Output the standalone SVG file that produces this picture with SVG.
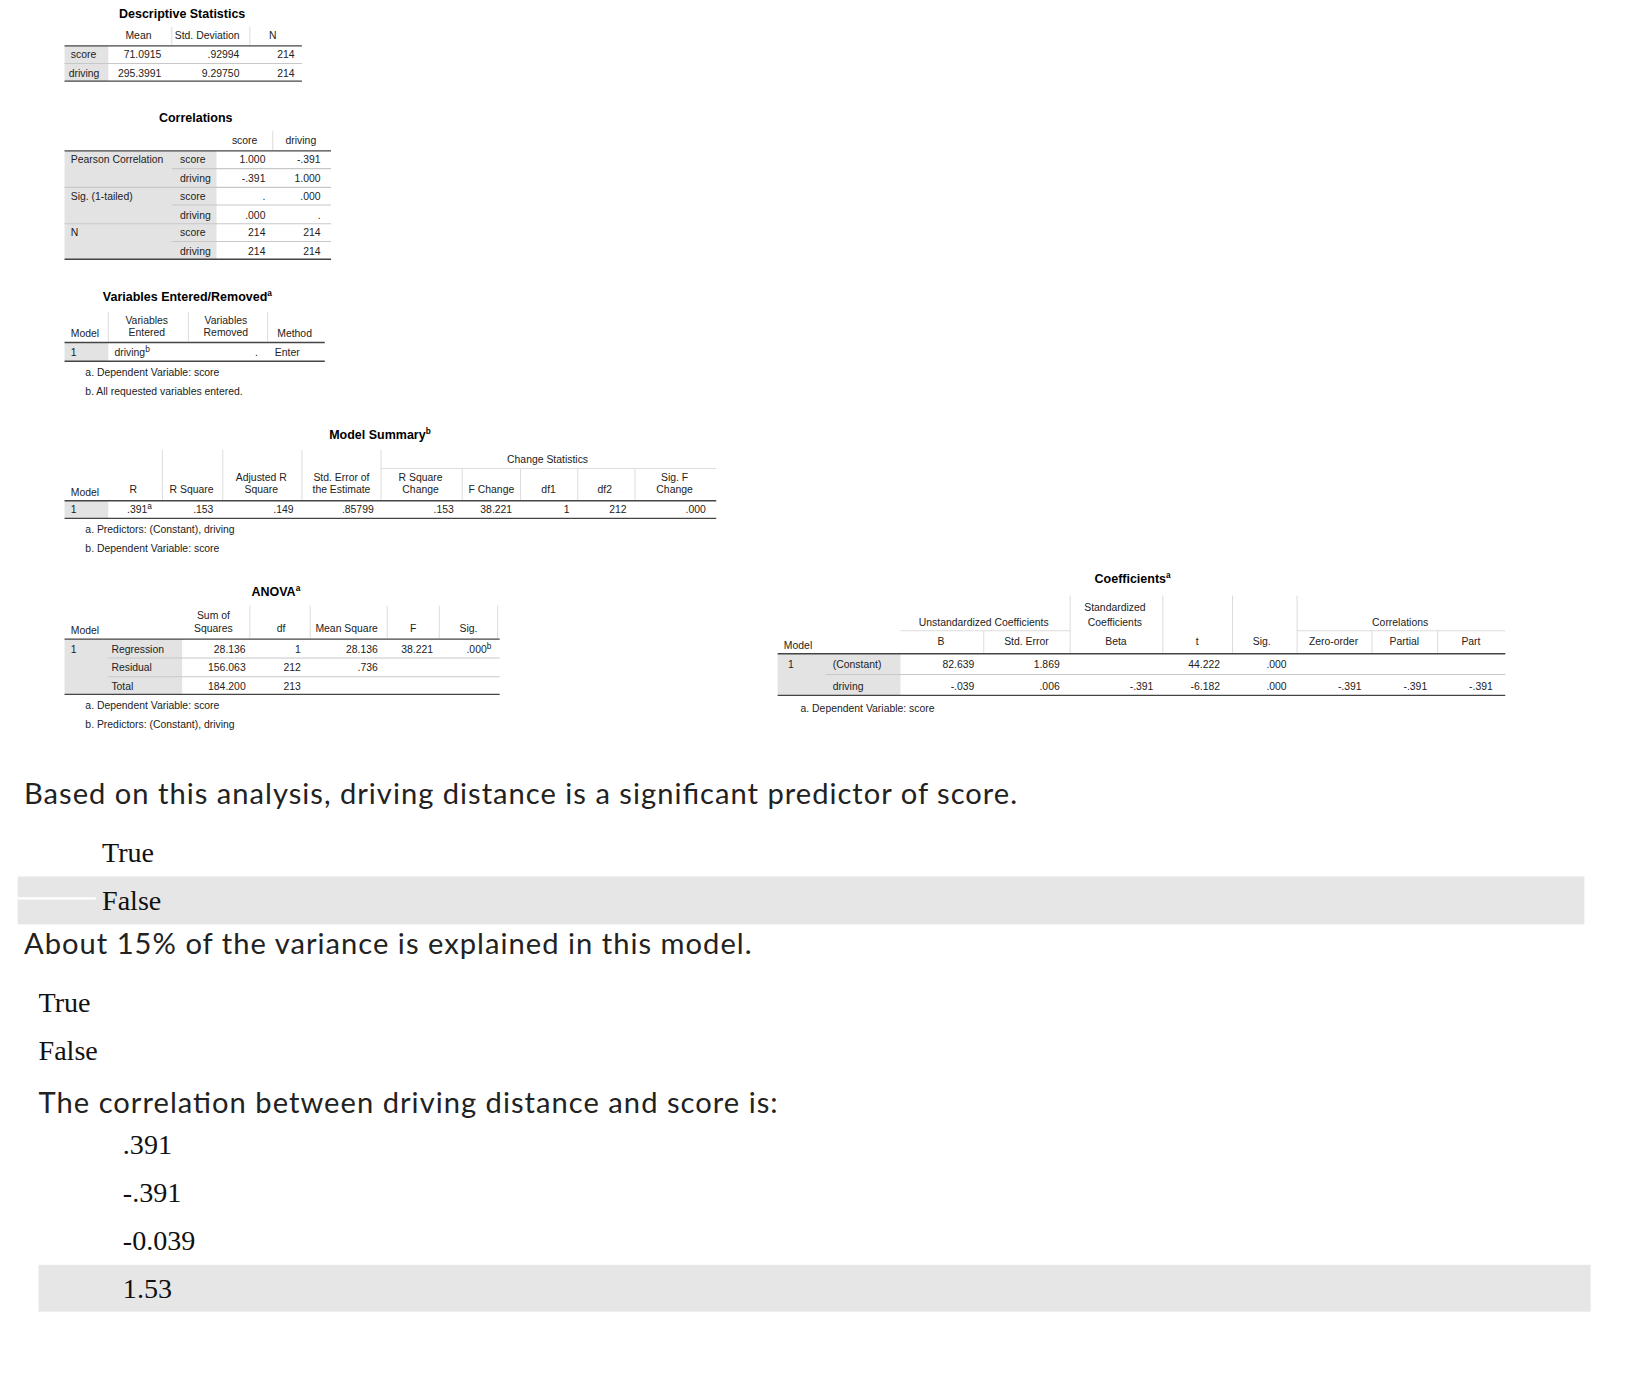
<svg xmlns="http://www.w3.org/2000/svg" width="1632" height="1384" viewBox="0 0 1632 1384">
<style>
text{font-family:"Liberation Sans",Arial,sans-serif;font-size:10px;fill:#222}
.t{font-weight:bold;font-size:12px;text-anchor:middle;fill:#000}
.c{text-anchor:middle}
.r{text-anchor:end}
.g{fill:#e3e3e3}
.d{stroke:#444;stroke-width:1.3}
.l{stroke:#c8c8c8;stroke-width:1}
.v{stroke:#ddd;stroke-width:1}
.q{font-family:Lato,"Open Sans",sans-serif;font-size:28px;fill:#222}
.o{font-family:"Liberation Serif","Times New Roman",serif;font-size:27px;fill:#111}
.sup{font-size:8px}
</style>
<rect width="1632" height="1384" fill="#fff"/>
<g transform="scale(1.041)">
<g id="descriptive">
<text class="t" x="175" y="17">Descriptive Statistics</text>
<rect class="g" x="62" y="44" width="42" height="34"/>
<line class="v" x1="165" y1="26" x2="165" y2="43"/><line class="v" x1="240" y1="26" x2="240" y2="43"/>
<text class="c" x="133" y="37">Mean</text><text class="c" x="199" y="37">Std. Deviation</text><text class="c" x="262" y="37">N</text>
<line class="d" x1="62" y1="44" x2="290" y2="44"/><line class="l" x1="62" y1="61" x2="290" y2="61"/><line class="d" x1="62" y1="78" x2="290" y2="78"/>
<text x="68" y="56">score</text><text class="r" x="155" y="56">71.0915</text><text class="r" x="230" y="56">.92994</text><text class="r" x="283" y="56">214</text>
<text x="66" y="74">driving</text><text class="r" x="155" y="74">295.3991</text><text class="r" x="230" y="74">9.29750</text><text class="r" x="283" y="74">214</text>
</g>
<g id="correlations">
<text class="t" x="188" y="117">Correlations</text>
<rect class="g" x="62" y="145" width="146" height="104"/>
<line class="v" x1="262" y1="126" x2="262" y2="144"/>
<text class="c" x="235" y="138">score</text><text class="c" x="289" y="138">driving</text>
<line class="d" x1="62" y1="145" x2="318" y2="145"/>
<line class="l" x1="165" y1="162" x2="318" y2="162"/><line class="l" x1="62" y1="180" x2="318" y2="180"/>
<line class="l" x1="165" y1="197" x2="318" y2="197"/><line class="l" x1="62" y1="215" x2="318" y2="215"/>
<line class="l" x1="165" y1="232" x2="318" y2="232"/><line class="d" x1="62" y1="249" x2="318" y2="249"/>
<text x="68" y="157">Pearson Correlation</text><text x="68" y="192">Sig. (1-tailed)</text><text x="68" y="227">N</text>
<text x="173" y="157">score</text><text x="173" y="175">driving</text><text x="173" y="192">score</text><text x="173" y="210">driving</text><text x="173" y="227">score</text><text x="173" y="245">driving</text>
<text class="r" x="255" y="157">1.000</text><text class="r" x="308" y="157">-.391</text>
<text class="r" x="255" y="175">-.391</text><text class="r" x="308" y="175">1.000</text>
<text class="r" x="255" y="192">.</text><text class="r" x="308" y="192">.000</text>
<text class="r" x="255" y="210">.000</text><text class="r" x="308" y="210">.</text>
<text class="r" x="255" y="227">214</text><text class="r" x="308" y="227">214</text>
<text class="r" x="255" y="245">214</text><text class="r" x="308" y="245">214</text>
</g>
<g id="entered">
<text class="t" x="180" y="289">Variables Entered/Removed<tspan class="sup" dy="-5">a</tspan></text>
<line class="v" x1="104" y1="300" x2="104" y2="328"/><line class="v" x1="181" y1="300" x2="181" y2="328"/><line class="v" x1="257" y1="300" x2="257" y2="328"/>
<text x="68" y="324">Model</text><text class="c" x="141" y="311">Variables</text><text class="c" x="141" y="323">Entered</text>
<text class="c" x="217" y="311">Variables</text><text class="c" x="217" y="323">Removed</text><text class="c" x="283" y="324">Method</text>
<rect class="g" x="62" y="329" width="42" height="18"/>
<line class="d" x1="62" y1="329" x2="312" y2="329"/><line class="d" x1="62" y1="347" x2="312" y2="347"/>
<text x="68" y="342">1</text><text x="110" y="342">driving<tspan class="sup" dy="-4">b</tspan></text><text x="245" y="342">.</text><text x="264" y="342">Enter</text>
<text x="82" y="361">a. Dependent Variable: score</text><text x="82" y="379">b. All requested variables entered.</text>
</g>
<g id="modelsummary">
<text class="t" x="365" y="422">Model Summary<tspan class="sup" dy="-5">b</tspan></text>
<g class="v"><line x1="156" y1="432" x2="156" y2="480"/><line x1="214" y1="432" x2="214" y2="480"/><line x1="290" y1="432" x2="290" y2="480"/><line x1="366" y1="432" x2="366" y2="480"/><line x1="444" y1="450" x2="444" y2="480"/><line x1="500" y1="450" x2="500" y2="480"/><line x1="555" y1="450" x2="555" y2="480"/><line x1="610" y1="450" x2="610" y2="480"/><line x1="366" y1="450" x2="688" y2="450"/></g>
<text class="c" x="526" y="445">Change Statistics</text>
<text x="68" y="476">Model</text><text class="c" x="128" y="474">R</text><text class="c" x="184" y="474">R Square</text>
<text class="c" x="251" y="462">Adjusted R</text><text class="c" x="251" y="474">Square</text>
<text class="c" x="328" y="462">Std. Error of</text><text class="c" x="328" y="474">the Estimate</text>
<text class="c" x="404" y="462">R Square</text><text class="c" x="404" y="474">Change</text>
<text class="c" x="472" y="474">F Change</text><text class="c" x="527" y="474">df1</text><text class="c" x="581" y="474">df2</text>
<text class="c" x="648" y="462">Sig. F</text><text class="c" x="648" y="474">Change</text>
<rect class="g" x="62" y="481" width="42" height="17"/>
<line class="d" x1="62" y1="481" x2="688" y2="481"/><line class="d" x1="62" y1="498" x2="688" y2="498"/>
<text x="68" y="493">1</text><text class="r" x="146" y="493">.391<tspan class="sup" dy="-4">a</tspan></text>
<text class="r" x="205" y="493">.153</text><text class="r" x="282" y="493">.149</text><text class="r" x="359" y="493">.85799</text><text class="r" x="436" y="493">.153</text><text class="r" x="492" y="493">38.221</text><text class="r" x="547" y="493">1</text><text class="r" x="602" y="493">212</text><text class="r" x="678" y="493">.000</text>
<text x="82" y="512">a. Predictors: (Constant), driving</text><text x="82" y="530">b. Dependent Variable: score</text>
</g>
<g id="anova">
<text class="t" x="265" y="573">ANOVA<tspan class="sup" dy="-5">a</tspan></text>
<g class="v"><line x1="240" y1="582" x2="240" y2="613"/><line x1="298" y1="582" x2="298" y2="613"/><line x1="372" y1="582" x2="372" y2="613"/><line x1="422" y1="582" x2="422" y2="613"/><line x1="478" y1="582" x2="478" y2="613"/></g>
<text x="68" y="609">Model</text><text class="c" x="205" y="595">Sum of</text><text class="c" x="205" y="607">Squares</text>
<text class="c" x="270" y="607">df</text><text class="c" x="333" y="607">Mean Square</text><text class="c" x="397" y="607">F</text><text class="c" x="450" y="607">Sig.</text>
<rect class="g" x="62" y="614" width="113" height="53"/>
<line class="d" x1="62" y1="614" x2="480" y2="614"/><line class="l" x1="104" y1="632" x2="480" y2="632"/><line class="l" x1="104" y1="650" x2="480" y2="650"/><line class="d" x1="62" y1="667" x2="480" y2="667"/>
<text x="68" y="627">1</text><text x="107" y="627">Regression</text><text x="107" y="645">Residual</text><text x="107" y="663">Total</text>
<text class="r" x="236" y="627">28.136</text><text class="r" x="289" y="627">1</text><text class="r" x="363" y="627">28.136</text><text class="r" x="416" y="627">38.221</text><text class="r" x="472" y="627">.000<tspan class="sup" dy="-4">b</tspan></text>
<text class="r" x="236" y="645">156.063</text><text class="r" x="289" y="645">212</text><text class="r" x="363" y="645">.736</text>
<text class="r" x="236" y="663">184.200</text><text class="r" x="289" y="663">213</text>
<text x="82" y="681">a. Dependent Variable: score</text><text x="82" y="699">b. Predictors: (Constant), driving</text>
</g>
<g id="coefficients">
<text class="t" x="1088" y="560">Coefficients<tspan class="sup" dy="-5">a</tspan></text>
<g class="v"><line x1="1028" y1="572" x2="1028" y2="627"/><line x1="1117" y1="572" x2="1117" y2="627"/><line x1="1184" y1="572" x2="1184" y2="627"/><line x1="1246" y1="572" x2="1246" y2="627"/><line x1="945" y1="606" x2="945" y2="627"/><line x1="1318" y1="606" x2="1318" y2="627"/><line x1="1381" y1="606" x2="1381" y2="627"/><line x1="865" y1="606" x2="1028" y2="606"/><line x1="1246" y1="606" x2="1446" y2="606"/></g>
<text class="c" x="945" y="601">Unstandardized Coefficients</text>
<text class="c" x="1071" y="587">Standardized</text><text class="c" x="1071" y="601">Coefficients</text>
<text class="c" x="1345" y="601">Correlations</text>
<text x="753" y="623">Model</text><text class="c" x="904" y="620">B</text><text class="c" x="986" y="620">Std. Error</text><text class="c" x="1072" y="620">Beta</text><text class="c" x="1150" y="620">t</text><text class="c" x="1212" y="620">Sig.</text><text class="c" x="1281" y="620">Zero-order</text><text class="c" x="1349" y="620">Partial</text><text class="c" x="1413" y="620">Part</text>
<rect class="g" x="747" y="628" width="118" height="40"/>
<line class="d" x1="747" y1="628" x2="1446" y2="628"/><line class="l" x1="793" y1="648" x2="1446" y2="648"/><line class="d" x1="747" y1="668" x2="1446" y2="668"/>
<text x="757" y="642">1</text><text x="800" y="642">(Constant)</text><text x="800" y="663">driving</text>
<text class="r" x="936" y="642">82.639</text><text class="r" x="1018" y="642">1.869</text><text class="r" x="1172" y="642">44.222</text><text class="r" x="1236" y="642">.000</text>
<text class="r" x="936" y="663">-.039</text><text class="r" x="1018" y="663">.006</text><text class="r" x="1108" y="663">-.391</text><text class="r" x="1172" y="663">-6.182</text><text class="r" x="1236" y="663">.000</text><text class="r" x="1308" y="663">-.391</text><text class="r" x="1371" y="663">-.391</text><text class="r" x="1434" y="663">-.391</text>
<text x="769" y="684">a. Dependent Variable: score</text>
</g>
<g id="questions">
<text class="q" x="23" y="772" textLength="954">Based on this analysis, driving distance is a significant predictor of score.</text>
<text class="o" x="98" y="828">True</text>
<rect x="17" y="842" width="1505" height="46" fill="#e6e6e6"/>
<line x1="17" y1="863" x2="92" y2="863" stroke="#fff" stroke-width="2"/>
<text class="o" x="98" y="874">False</text>
<text class="q" x="23" y="916" textLength="699">About 15% of the variance is explained in this model.</text>
<text class="o" x="37" y="972">True</text>
<text class="o" x="37" y="1018">False</text>
<text class="q" x="37" y="1069" textLength="710">The correlation between driving distance and score is:</text>
<text class="o" x="118" y="1109">.391</text>
<text class="o" x="118" y="1155">-.391</text>
<text class="o" x="118" y="1201">-0.039</text>
<rect x="37" y="1215" width="1491" height="45" fill="#e6e6e6"/>
<text class="o" x="118" y="1247">1.53</text>
</g>
</g>
</svg>
